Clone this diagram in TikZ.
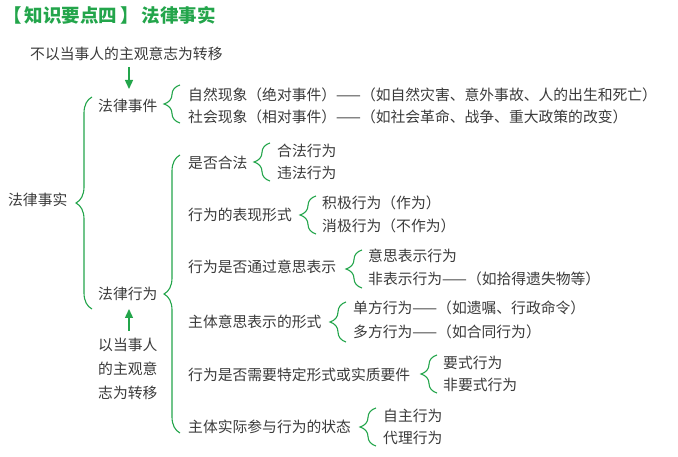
\documentclass[tikz,border=0pt]{standalone}
\usepackage{fontspec}
\setmainfont{Noto Sans CJK SC}
\usetikzlibrary{decorations.pathreplacing,arrows.meta}
\definecolor{gr}{RGB}{35,165,75}
\definecolor{tx}{RGB}{58,58,58}
\begin{document}
\begin{tikzpicture}[x=1pt,y=-1pt,
  txt/.style={anchor=west,inner sep=0pt,text=tx,font=\fontsize{14.8pt}{17pt}\selectfont},
  ttl/.style={anchor=west,inner sep=0pt,text=gr,font=\fontsize{18.5pt}{20pt}\selectfont\bfseries},
  gbr/.style={draw=gr,line width=1.1pt,decorate,decoration={brace,amplitude=16pt}},
  garr/.style={draw=gr,line width=1.4pt,-{Triangle[length=9pt,width=8pt]}}]
\useasboundingbox (0,0) rectangle (678,457);
\newcommand\gbrace[3]{\draw[gbr] (#1,#3) -- (#1,#2);}
% title
\node[ttl] (title) at (3,15) {【\hspace{3pt}知识要点四\hspace{3pt}】\hspace{3pt}法律事实};
% top note
\node[txt] (note1) at (30,54) {不以当事人的主观意志为转移};
\node[txt] (shishi) at (8,200) {法律事实};
\node[txt] (shijian) at (98,106) {法律事件};
\node[txt] (xingwei) at (98,294) {法律行为};
\node[txt,align=left,font=\fontsize{14.8pt}{24pt}\selectfont] (note2) at (98,369) {以当事人\\的主观意\\志为转移};
\coordinate (a1) at (129,67);
\coordinate (a2) at (129,89);
\coordinate (b1) at (129,331);
\coordinate (b2) at (129,309);
\draw[garr] (a1) -- (a2);
\draw[garr] (b1) -- (b2);
% events
\node[txt] (ziran) at (188,95) {自然现象（绝对事件）——（如自然灾害、意外事故、人的出生和死亡）};
\node[txt] (shehui) at (188,117) {社会现象（相对事件）——（如社会革命、战争、重大政策的改变）};
% acts
\node[txt] (c1) at (188,163) {是否合法};
\node[txt] (c1a) at (277,151) {合法行为};
\node[txt] (c1b) at (277,173) {违法行为};
\node[txt] (c2) at (188,215) {行为的表现形式};
\node[txt] (c2a) at (322,203) {积极行为（作为）};
\node[txt] (c2b) at (322,226) {消极行为（不作为）};
\node[txt] (c3) at (188,267) {行为是否通过意思表示};
\node[txt] (c3a) at (368,256) {意思表示行为};
\node[txt] (c3b) at (368,279) {非表示行为——（如拾得遗失物等）};
\node[txt] (c4) at (188,322) {主体意思表示的形式};
\node[txt] (c4a) at (353,308) {单方行为——（如遗嘱、行政命令）};
\node[txt] (c4b) at (353,332) {多方行为——（如合同行为）};
\node[txt] (c5) at (188,375) {行为是否需要特定形式或实质要件};
\node[txt] (c5a) at (443,363) {要式行为};
\node[txt] (c5b) at (443,385) {非要式行为};
\node[txt] (c6) at (188,427) {主体实际参与行为的状态};
\node[txt] (c6a) at (383,416) {自主行为};
\node[txt] (c6b) at (383,438) {代理行为};
% braces
\gbrace{92}{97}{309}
\gbrace{180}{85}{123}
\gbrace{180}{155}{433}
\gbrace{270}{143}{181}
\gbrace{316}{196}{234}
\gbrace{362}{250}{288}
\gbrace{346}{302}{342}
\gbrace{437}{355}{393}
\gbrace{376}{408}{446}
\end{tikzpicture}
\end{document}
